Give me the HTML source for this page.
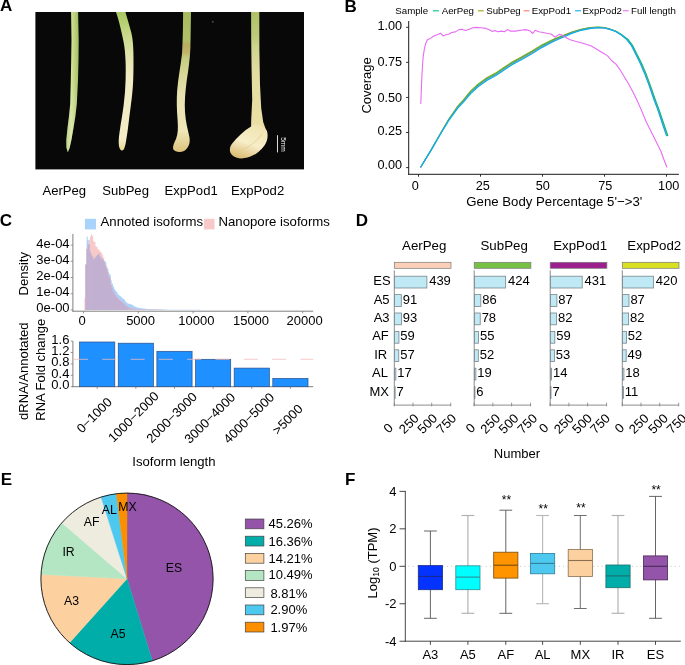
<!DOCTYPE html>
<html lang="en">
<head>
<meta charset="utf-8">
<title>Figure</title>
<style>
html,body{margin:0;padding:0;background:#fff;}
body{width:685px;height:665px;overflow:hidden;}
svg{display:block;font-family:'Liberation Sans', Arial, Helvetica, sans-serif;}
</style>
</head>
<body>
<svg width="685" height="665" viewBox="0 0 685 665">
<rect x="0" y="0" width="685" height="665" fill="#ffffff"/>
<defs>
<linearGradient id="gPeg1" x1="0" y1="0" x2="1" y2="0"><stop offset="0" stop-color="#a4c064"/><stop offset="0.4" stop-color="#d3e396"/><stop offset="1" stop-color="#a0bc5e"/></linearGradient>
<linearGradient id="gPeg2" x1="0" y1="0" x2="0" y2="1"><stop offset="0" stop-color="#aac864"/><stop offset="0.09" stop-color="#b9d274"/><stop offset="0.2" stop-color="#cfdc92"/><stop offset="0.35" stop-color="#e6e4b2"/><stop offset="0.49" stop-color="#f1ebc4"/><stop offset="0.92" stop-color="#f3ecc6"/><stop offset="1" stop-color="#e6d890"/></linearGradient>
<linearGradient id="gPeg3" x1="0" y1="0" x2="0" y2="1"><stop offset="0" stop-color="#a6ba5e"/><stop offset="0.2" stop-color="#b0c068"/><stop offset="0.235" stop-color="#b8ae62"/><stop offset="0.29" stop-color="#bfb46a"/><stop offset="0.325" stop-color="#c4cc80"/><stop offset="0.45" stop-color="#d8d898"/><stop offset="0.6" stop-color="#e8e2b0"/><stop offset="0.85" stop-color="#f0e6b8"/><stop offset="1" stop-color="#dcc27c"/></linearGradient>
<linearGradient id="gPeg4" x1="0" y1="0" x2="0" y2="1"><stop offset="0" stop-color="#afc268"/><stop offset="0.2" stop-color="#bccb78"/><stop offset="0.3" stop-color="#d0d68e"/><stop offset="0.5" stop-color="#e2dca0"/><stop offset="1" stop-color="#ecdfa6"/></linearGradient>
<linearGradient id="gPod" x1="0.7" y1="0" x2="0.3" y2="1"><stop offset="0" stop-color="#f0e4b2"/><stop offset="0.55" stop-color="#f7edc8"/><stop offset="1" stop-color="#dcbc74"/></linearGradient>
<linearGradient id="gLight" x1="0" y1="0" x2="0" y2="1"><stop offset="0" stop-color="#ffffff" stop-opacity="0"/><stop offset="0.5" stop-color="#ffffff" stop-opacity="0.05"/><stop offset="1" stop-color="#f4f6d8" stop-opacity="0.38"/></linearGradient>
<filter id="soft" x="-5%" y="-5%" width="110%" height="110%"><feGaussianBlur stdDeviation="0.45"/></filter>
</defs>
<text x="-0.10" y="11.30" font-size="17" text-anchor="start" font-weight="bold" fill="#000" >A</text>
<rect x="35.40" y="12.00" width="268.60" height="157.40" fill="#080808" stroke="none" stroke-width="1" />
<g filter="url(#soft)">
<path d="M71.1,12 L78.1,12 L78.7,40 L78.5,60 L78,80 L76.8,104 L75.4,116 L73.5,128 L71.4,140 L69.6,148 L67.8,152.2 L66.4,147.5 L66.3,140 L67.5,128 L69,116 L70.2,104 L70.8,80 L71.2,60 L71.5,40 Z" fill="url(#gPeg1)"/>
<path d="M71.1,12 L78.1,12 L78.7,40 L78.5,60 L78,80 L76.8,104 L75.4,116 L73.5,128 L71.4,140 L69.6,148 L67.8,152.2 L66.4,147.5 L66.3,140 L67.5,128 L69,116 L70.2,104 L70.8,80 L71.2,60 L71.5,40 Z" fill="url(#gLight)"/>
<path d="M116,12 L125.4,12 C127.4,19 129.6,26 131.4,33 C132.6,38 133.2,44 133.4,52 C133.6,62 133.5,72 133.2,80 C132.8,90 131.8,98 131,104 C130.2,110 129.2,118 128,128 C127.2,134 126.6,138 126.2,140 C125.8,143 125.2,146 124.2,148.6 C123.4,150.4 122.4,150.9 121.4,150.4 C119.8,149.6 118.8,147 118.7,143 C118.6,139 119.2,134 120.2,128 C121.2,122 122.8,112 123.8,104 C124.8,96 125.4,88 125.6,80 C125.8,72 125.8,66 125.5,60 C125.2,54 124.8,48 123.6,42 C122,34 119.4,22 116,12 Z" fill="url(#gPeg2)"/>
<path d="M183.1,12 L191,12 L190.4,48 C189.8,60 188.4,70 186.8,80 C185.2,92 184.4,102 185,112 C185.6,122 188,130 189.4,137 C190.6,143 188.4,148.5 184,151 C180,153 175,152 173.4,149.6 C172.4,147 174,143 176,139 C178,134 178.2,128 177.6,120 C176.8,110 176.4,100 177.2,90 C178.2,78 180.6,66 182,54 C182.8,42 183,26 183.1,12 Z" fill="url(#gPeg3)"/>
<path d="M251.1,12 L259.3,12 L259.4,50 L260,85 L261.2,108 L263.2,122 L266,130 L251,131 L251.2,120 L252.2,100 L251.6,70 L251.2,40 Z" fill="url(#gPeg4)"/>
<path d="M251.4,126.2 C256,123.6 263,125 266.8,130.4 C268.4,135 267.6,140.6 264.8,145 C261,151 254.6,155.6 247.6,157.6 C241.4,159.2 235.4,158.4 232,155 C229,151.8 229.2,147.6 232.2,143.6 C236.8,137.4 243.6,131 251.4,126.2 Z" fill="url(#gPod)"/>
<path d="M236,151 C244,150 254,145 262,134" stroke="#e2cc8c" stroke-width="0.7" fill="none"/>
</g>
<line x1="277.50" y1="135.20" x2="277.50" y2="152.40" stroke="#f4f4f4" stroke-width="0.9" />
<text transform="translate(281.3,137.2) rotate(90)" font-size="6.6" fill="#f4f4f4">5mm</text>
<circle cx="212.9" cy="21.8" r="0.6" fill="#bbb"/>
<text x="64.25" y="194.80" font-size="13.1" text-anchor="middle" font-weight="normal" fill="#000" >AerPeg</text>
<text x="125.65" y="194.80" font-size="13.1" text-anchor="middle" font-weight="normal" fill="#000" >SubPeg</text>
<text x="191.15" y="194.80" font-size="13.1" text-anchor="middle" font-weight="normal" fill="#000" >ExpPod1</text>
<text x="257.60" y="194.80" font-size="13.1" text-anchor="middle" font-weight="normal" fill="#000" >ExpPod2</text>
<text x="344.60" y="12.00" font-size="17" text-anchor="start" font-weight="bold" fill="#000" >B</text>
<text x="395.30" y="13.90" font-size="9.7" text-anchor="start" font-weight="normal" fill="#000" >Sample</text>
<line x1="433.00" y1="10.80" x2="438.80" y2="10.80" stroke="#00bf7d" stroke-width="1.1" />
<text x="441.70" y="13.90" font-size="9.7" text-anchor="start" font-weight="normal" fill="#000" >AerPeg</text>
<line x1="477.90" y1="10.80" x2="483.70" y2="10.80" stroke="#a3a500" stroke-width="1.1" />
<text x="486.20" y="13.90" font-size="9.7" text-anchor="start" font-weight="normal" fill="#000" >SubPeg</text>
<line x1="523.60" y1="10.80" x2="529.40" y2="10.80" stroke="#f8766d" stroke-width="1.1" />
<text x="531.80" y="13.90" font-size="9.7" text-anchor="start" font-weight="normal" fill="#000" >ExpPod1</text>
<line x1="575.10" y1="10.80" x2="580.90" y2="10.80" stroke="#00b0f6" stroke-width="1.1" />
<text x="582.60" y="13.90" font-size="9.7" text-anchor="start" font-weight="normal" fill="#000" >ExpPod2</text>
<line x1="622.80" y1="10.80" x2="628.60" y2="10.80" stroke="#e76bf3" stroke-width="1.1" />
<text x="631.10" y="13.90" font-size="9.7" text-anchor="start" font-weight="normal" fill="#000" >Full length</text>
<line x1="408.70" y1="21.00" x2="408.70" y2="174.80" stroke="#1a1a1a" stroke-width="1.0" />
<line x1="408.20" y1="174.30" x2="678.90" y2="174.30" stroke="#1a1a1a" stroke-width="1.0" />
<line x1="406.10" y1="27.30" x2="408.70" y2="27.30" stroke="#1a1a1a" stroke-width="0.9" />
<text x="402.20" y="30.00" font-size="12.7" text-anchor="end" font-weight="normal" fill="#000" >1.00</text>
<line x1="406.10" y1="62.37" x2="408.70" y2="62.37" stroke="#1a1a1a" stroke-width="0.9" />
<text x="402.20" y="66.00" font-size="12.7" text-anchor="end" font-weight="normal" fill="#000" >0.75</text>
<line x1="406.10" y1="97.45" x2="408.70" y2="97.45" stroke="#1a1a1a" stroke-width="0.9" />
<text x="402.20" y="101.50" font-size="12.7" text-anchor="end" font-weight="normal" fill="#000" >0.50</text>
<line x1="406.10" y1="132.52" x2="408.70" y2="132.52" stroke="#1a1a1a" stroke-width="0.9" />
<text x="402.20" y="135.40" font-size="12.7" text-anchor="end" font-weight="normal" fill="#000" >0.25</text>
<line x1="406.10" y1="167.60" x2="408.70" y2="167.60" stroke="#1a1a1a" stroke-width="0.9" />
<text x="402.20" y="168.50" font-size="12.7" text-anchor="end" font-weight="normal" fill="#000" >0.00</text>
<line x1="418.50" y1="174.30" x2="418.50" y2="176.70" stroke="#1a1a1a" stroke-width="0.9" />
<text x="415.20" y="189.50" font-size="12.7" text-anchor="middle" font-weight="normal" fill="#000" >0</text>
<line x1="480.50" y1="174.30" x2="480.50" y2="176.70" stroke="#1a1a1a" stroke-width="0.9" />
<text x="482.70" y="189.50" font-size="12.7" text-anchor="middle" font-weight="normal" fill="#000" >25</text>
<line x1="542.50" y1="174.30" x2="542.50" y2="176.70" stroke="#1a1a1a" stroke-width="0.9" />
<text x="542.80" y="189.50" font-size="12.7" text-anchor="middle" font-weight="normal" fill="#000" >50</text>
<line x1="604.50" y1="174.30" x2="604.50" y2="176.70" stroke="#1a1a1a" stroke-width="0.9" />
<text x="605.30" y="189.50" font-size="12.7" text-anchor="middle" font-weight="normal" fill="#000" >75</text>
<line x1="666.50" y1="174.30" x2="666.50" y2="176.70" stroke="#1a1a1a" stroke-width="0.9" />
<text x="668.70" y="189.50" font-size="12.7" text-anchor="middle" font-weight="normal" fill="#000" >100</text>
<text x="554.30" y="205.60" font-size="13.2" text-anchor="middle" font-weight="normal" fill="#000" >Gene Body Percentage 5'&#8722;&gt;3'</text>
<text transform="translate(370.70,85.40) rotate(-90)" font-size="13" text-anchor="middle" >Coverage</text>
<polyline points="420.8,167.0 431.3,149.5 440.1,133.9 448.8,119.0 457.6,106.3 463.4,99.9 470.7,90.9 478.0,84.1 486.8,77.7 495.5,73.1 503.8,67.5 512.5,61.7 521.3,57.0 531.5,51.2 541.7,44.9 553.4,39.3 563.6,35.2 572.4,31.7 581.1,29.2 588.4,27.9 593.0,27.4 598.1,27.1 604.0,27.6 609.8,29.0 615.9,31.2 621.9,35.1 627.8,39.8 632.2,45.7 636.6,54.4 641.0,63.2 645.4,73.4 649.7,85.1 654.8,99.7 658.5,109.6 662.9,122.7 667.3,135.6" fill="none" stroke="#a3a500" stroke-width="1.1" stroke-linejoin="round" stroke-linecap="round"/>
<polyline points="420.8,167.0 431.3,149.6 440.1,134.2 448.8,119.5 457.6,107.0 463.4,100.8 470.7,91.9 478.0,85.1 486.8,78.7 495.5,74.1 503.8,68.5 512.5,62.7 521.3,58.0 531.5,52.2 541.7,45.9 553.4,40.1 563.6,35.9 572.4,32.2 581.1,29.6 588.4,28.2 593.0,27.7 598.1,27.3 604.0,27.7 609.8,29.1 616.0,31.3 622.3,35.1 628.3,39.8 632.7,45.7 637.1,54.4 641.5,63.2 645.9,73.4 650.2,85.1 655.3,99.7 659.0,109.6 663.4,122.7 667.8,135.6" fill="none" stroke="#00bf7d" stroke-width="1.2" stroke-linejoin="round" stroke-linecap="round"/>
<polyline points="420.8,167.0 431.3,149.8 440.1,134.5 448.8,120.0 457.6,107.7 463.4,101.5 470.7,92.8 478.0,86.0 486.8,79.6 495.5,75.0 503.8,69.4 512.5,63.6 521.3,58.9 531.5,53.1 541.7,46.8 553.4,40.8 563.6,36.5 572.4,32.7 581.1,30.0 588.4,28.5 593.0,27.9 598.1,27.5 604.0,27.9 609.8,29.3 615.7,31.4 621.5,35.1 627.3,39.8 631.7,45.7 636.1,54.4 640.5,63.2 644.9,73.4 649.2,85.1 654.3,99.7 658.0,109.6 662.4,122.7 666.8,135.6" fill="none" stroke="#f8766d" stroke-width="1.0" stroke-linejoin="round" stroke-linecap="round"/>
<polyline points="420.8,167.0 431.3,149.9 440.1,134.8 448.8,120.4 457.6,108.3 463.4,102.2 470.7,93.6 478.0,86.8 486.8,80.4 495.5,75.8 503.8,70.2 512.5,64.4 521.3,59.7 531.5,53.9 541.7,47.6 553.4,41.5 563.6,37.0 572.4,33.1 581.1,30.3 588.4,28.8 593.0,28.1 598.1,27.6 604.0,28.0 609.8,29.4 615.6,31.5 621.3,35.1 627.0,39.8 631.5,45.7 635.9,54.4 640.2,63.2 644.6,73.4 649.0,85.1 654.0,99.7 657.8,109.6 662.1,122.7 666.5,135.6" fill="none" stroke="#00b0f6" stroke-width="1.2" stroke-linejoin="round" stroke-linecap="round"/>
<polyline points="420.8,103.5 421.5,85.1 422.2,70.5 423.1,57.3 424.4,48.6 425.7,43.5 427.6,39.5 430.5,38.4 434.2,35.7 437.8,34.4 440.5,33.2 443.0,35.9 445.9,34.7 448.8,34.3 451.7,32.5 455.4,31.9 459.0,29.6 461.9,29.3 465.6,30.5 469.2,29.3 472.9,27.7 476.5,27.4 480.9,27.8 486.0,28.4 489.7,29.9 492.6,31.4 494.8,30.5 497.7,31.8 501.4,31.1 504.5,31.8 507.4,29.6 510.3,31.1 515.4,31.1 520.5,30.3 525.7,29.6 530.0,30.8 532.7,33.5 535.1,30.3 538.8,31.8 543.2,32.5 547.6,33.5 551.2,34.0 554.9,37.2 559.2,34.4 562.2,35.1 565.8,37.6 570.2,39.8 575.3,41.3 581.1,42.7 586.2,44.2 590.8,45.7 596.7,49.3 602.5,52.7 607.6,55.9 612.0,61.0 615.7,63.9 620.0,69.7 624.4,77.0 628.8,84.3 633.2,92.4 636.8,99.7 640.5,108.1 646.3,122.0 653.6,136.6 660.9,151.2 663.8,159.2 666.8,167.0" fill="none" stroke="#e76bf3" stroke-width="1.1" stroke-linejoin="round" stroke-linecap="round"/>
<text x="-0.20" y="225.90" font-size="17" text-anchor="start" font-weight="bold" fill="#000" >C</text>
<rect x="84.90" y="218.80" width="11.10" height="10.60" fill="#a9d3fa" stroke="none" stroke-width="1" />
<text x="100.50" y="225.90" font-size="13.2" text-anchor="start" font-weight="normal" fill="#000" >Annoted isoforms</text>
<rect x="203.90" y="218.80" width="10.60" height="10.60" fill="#f8c9c9" stroke="none" stroke-width="1" />
<text x="218.50" y="225.90" font-size="13.2" text-anchor="start" font-weight="normal" fill="#000" >Nanopore isoforms</text>
<line x1="72.90" y1="233.90" x2="72.90" y2="311.70" stroke="#7f7f7f" stroke-width="1.0" />
<line x1="72.40" y1="311.20" x2="313.20" y2="311.20" stroke="#7f7f7f" stroke-width="1.0" />
<line x1="70.70" y1="245.10" x2="72.90" y2="245.10" stroke="#7f7f7f" stroke-width="0.8" />
<text x="69.60" y="248.40" font-size="13" text-anchor="end" font-weight="normal" fill="#000" >4e-04</text>
<line x1="70.70" y1="261.30" x2="72.90" y2="261.30" stroke="#7f7f7f" stroke-width="0.8" />
<text x="69.60" y="264.30" font-size="13" text-anchor="end" font-weight="normal" fill="#000" >3e-04</text>
<line x1="70.70" y1="277.50" x2="72.90" y2="277.50" stroke="#7f7f7f" stroke-width="0.8" />
<text x="69.60" y="280.20" font-size="13" text-anchor="end" font-weight="normal" fill="#000" >2e-04</text>
<line x1="70.70" y1="293.70" x2="72.90" y2="293.70" stroke="#7f7f7f" stroke-width="0.8" />
<text x="69.60" y="296.10" font-size="13" text-anchor="end" font-weight="normal" fill="#000" >1e-04</text>
<line x1="70.70" y1="309.90" x2="72.90" y2="309.90" stroke="#7f7f7f" stroke-width="0.8" />
<text x="69.60" y="312.00" font-size="13" text-anchor="end" font-weight="normal" fill="#000" >0e-00</text>
<line x1="83.50" y1="311.20" x2="83.50" y2="313.40" stroke="#7f7f7f" stroke-width="0.8" />
<text x="82.10" y="325.40" font-size="13" text-anchor="middle" font-weight="normal" fill="#000" >0</text>
<line x1="138.30" y1="311.20" x2="138.30" y2="313.40" stroke="#7f7f7f" stroke-width="0.8" />
<text x="140.60" y="325.40" font-size="13" text-anchor="middle" font-weight="normal" fill="#000" >5000</text>
<line x1="193.10" y1="311.20" x2="193.10" y2="313.40" stroke="#7f7f7f" stroke-width="0.8" />
<text x="196.40" y="325.40" font-size="13" text-anchor="middle" font-weight="normal" fill="#000" >10000</text>
<line x1="247.90" y1="311.20" x2="247.90" y2="313.40" stroke="#7f7f7f" stroke-width="0.8" />
<text x="251.00" y="325.40" font-size="13" text-anchor="middle" font-weight="normal" fill="#000" >15000</text>
<line x1="302.70" y1="311.20" x2="302.70" y2="313.40" stroke="#7f7f7f" stroke-width="0.8" />
<text x="304.70" y="325.40" font-size="13" text-anchor="middle" font-weight="normal" fill="#000" >20000</text>
<text transform="translate(28.40,273.80) rotate(-90)" font-size="13" text-anchor="middle" >Density</text>
<path d="M85.52,309.90 L85.52,263.83 L86.62,263.83 L86.62,236.39 L87.71,236.39 L87.71,239.77 L88.81,239.77 L88.81,244.29 L89.90,244.29 L89.90,251.43 L91.00,251.43 L91.00,254.06 L92.10,254.06 L92.10,256.32 L93.19,256.32 L93.19,258.95 L94.29,258.95 L94.29,258.20 L95.38,258.20 L95.38,256.69 L96.48,256.69 L96.48,255.19 L97.58,255.19 L97.58,254.81 L98.67,254.81 L98.67,253.31 L99.77,253.31 L99.77,256.32 L100.86,256.32 L100.86,258.20 L101.96,258.20 L101.96,258.57 L103.06,258.57 L103.06,260.08 L104.15,260.08 L104.15,261.58 L105.25,261.58 L105.25,262.33 L106.34,262.33 L106.34,266.84 L107.44,266.84 L107.44,269.47 L108.54,269.47 L108.54,273.23 L109.63,273.23 L109.63,274.74 L110.73,274.74 L110.73,280.49 L111.82,280.49 L111.82,283.83 L112.92,283.83 L112.92,286.57 L114.02,286.57 L114.02,288.85 L115.11,288.85 L115.11,290.83 L116.21,290.83 L116.21,291.83 L117.30,291.83 L117.30,293.69 L118.40,293.69 L118.40,294.99 L119.50,294.99 L119.50,295.92 L120.59,295.92 L120.59,296.81 L121.69,296.81 L121.69,297.90 L122.78,297.90 L122.78,298.77 L123.88,298.77 L123.88,299.78 L124.98,299.78 L124.98,301.20 L126.07,301.20 L126.07,302.52 L127.17,302.52 L127.17,303.36 L128.26,303.36 L128.26,303.85 L129.36,303.85 L129.36,304.07 L130.46,304.07 L130.46,304.29 L131.55,304.29 L131.55,304.86 L132.65,304.86 L132.65,305.58 L133.74,305.58 L133.74,306.28 L134.84,306.28 L134.84,306.79 L135.94,306.79 L135.94,307.29 L137.03,307.29 L137.03,307.58 L138.13,307.58 L138.13,307.86 L139.22,307.86 L139.22,308.00 L140.32,308.00 L140.32,308.13 L141.42,308.13 L141.42,308.26 L142.51,308.26 L142.51,308.42 L143.61,308.42 L143.61,308.60 L144.70,308.60 L144.70,308.77 L145.80,308.77 L145.80,308.90 L146.90,308.90 L146.90,308.95 L147.99,308.95 L147.99,309.01 L149.09,309.01 L149.09,309.06 L150.18,309.06 L150.18,309.12 L151.28,309.12 L151.28,309.17 L152.38,309.17 L152.38,309.23 L153.47,309.23 L153.47,309.28 L154.57,309.28 L154.57,309.34 L155.66,309.34 L155.66,309.39 L156.76,309.39 L156.76,309.45 L157.86,309.45 L157.86,309.48 L158.95,309.48 L158.95,309.50 L160.05,309.50 L160.05,309.52 L161.14,309.52 L161.14,309.53 L162.24,309.53 L162.24,309.55 L163.34,309.55 L163.34,309.57 L164.43,309.57 L164.43,309.59 L165.53,309.59 L165.53,309.61 L166.62,309.61 L166.62,309.63 L167.72,309.63 L167.72,309.65 L168.82,309.65 L168.82,309.67 L169.91,309.67 L169.91,309.68 L171.01,309.68 L171.01,309.69 L172.10,309.69 L172.10,309.69 L173.20,309.69 L173.20,309.70 L174.30,309.70 L174.30,309.70 L175.39,309.70 L175.39,309.71 L176.49,309.71 L176.49,309.71 L177.58,309.71 L177.58,309.72 L178.68,309.72 L178.68,309.72 L179.78,309.72 L179.78,309.73 L180.87,309.73 L180.87,309.73 L181.97,309.73 L181.97,309.74 L183.06,309.74 L183.06,309.74 L184.16,309.74 L184.16,309.75 L185.26,309.75 L185.26,309.75 L186.35,309.75 L186.35,309.76 L187.45,309.76 L187.45,309.76 L188.54,309.76 L188.54,309.77 L189.64,309.77 L189.64,309.77 L190.74,309.77 L190.74,309.78 L191.83,309.78 L191.83,309.79 L192.93,309.79 L192.93,309.79 L194.02,309.79 L194.02,309.80 L195.12,309.80 L195.12,309.80 L196.22,309.80 L196.22,309.81 L197.31,309.81 L197.31,309.81 L198.41,309.81 L198.41,309.82 L199.50,309.82 L199.50,309.82 L200.60,309.82 L200.60,309.90 Z" fill="#a9d3fa"/>
<path d="M84.42,309.90 L84.42,298.20 L85.52,298.20 L85.52,264.59 L86.62,264.59 L86.62,248.80 L87.71,248.80 L87.71,244.29 L88.81,244.29 L88.81,240.15 L89.90,240.15 L89.90,236.39 L91.00,236.39 L91.00,234.14 L92.10,234.14 L92.10,236.02 L93.19,236.02 L93.19,241.28 L94.29,241.28 L94.29,242.03 L95.38,242.03 L95.38,246.17 L96.48,246.17 L96.48,246.92 L97.58,246.92 L97.58,249.17 L98.67,249.17 L98.67,249.92 L99.77,249.92 L99.77,251.80 L100.86,251.80 L100.86,252.56 L101.96,252.56 L101.96,254.81 L103.06,254.81 L103.06,257.44 L104.15,257.44 L104.15,261.58 L105.25,261.58 L105.25,265.34 L106.34,265.34 L106.34,268.35 L107.44,268.35 L107.44,272.11 L108.54,272.11 L108.54,275.86 L109.63,275.86 L109.63,278.12 L110.73,278.12 L110.73,284.43 L111.82,284.43 L111.82,287.71 L112.92,287.71 L112.92,290.95 L114.02,290.95 L114.02,293.09 L115.11,293.09 L115.11,294.93 L116.21,294.93 L116.21,296.21 L117.30,296.21 L117.30,297.90 L118.40,297.90 L118.40,298.99 L119.50,298.99 L119.50,299.97 L120.59,299.97 L120.59,300.74 L121.69,300.74 L121.69,301.62 L122.78,301.62 L122.78,302.41 L123.88,302.41 L123.88,303.43 L124.98,303.43 L124.98,304.84 L126.07,304.84 L126.07,305.82 L127.17,305.82 L127.17,306.57 L128.26,306.57 L128.26,307.11 L129.36,307.11 L129.36,307.43 L130.46,307.43 L130.46,307.76 L131.55,307.76 L131.55,308.09 L132.65,308.09 L132.65,308.42 L133.74,308.42 L133.74,308.74 L134.84,308.74 L134.84,308.91 L135.94,308.91 L135.94,309.07 L137.03,309.07 L137.03,309.23 L138.13,309.23 L138.13,309.39 L139.22,309.39 L139.22,309.44 L140.32,309.44 L140.32,309.49 L141.42,309.49 L141.42,309.54 L142.51,309.54 L142.51,309.59 L143.61,309.59 L143.61,309.64 L144.70,309.64 L144.70,309.69 L145.80,309.69 L145.80,309.73 L146.90,309.73 L146.90,309.74 L147.99,309.74 L147.99,309.75 L149.09,309.75 L149.09,309.77 L150.18,309.77 L150.18,309.78 L151.28,309.78 L151.28,309.79 L152.38,309.79 L152.38,309.80 L153.47,309.80 L153.47,309.82 L154.57,309.82 L154.57,309.83 L155.66,309.83 L155.66,309.84 L156.76,309.84 L156.76,309.85 L157.86,309.85 L157.86,309.86 L158.95,309.86 L158.95,309.86 L160.05,309.86 L160.05,309.87 L161.14,309.87 L161.14,309.87 L162.24,309.87 L162.24,309.87 L163.34,309.87 L163.34,309.88 L164.43,309.88 L164.43,309.88 L165.53,309.88 L165.53,309.89 L166.62,309.89 L166.62,309.89 L167.72,309.89 L167.72,309.89 L168.82,309.89 L168.82,309.90 L169.91,309.90 L169.91,309.90 L171.01,309.90 L171.01,309.90 L172.10,309.90 L172.10,309.90 L173.20,309.90 L173.20,309.90 L174.30,309.90 L174.30,309.90 L175.39,309.90 L175.39,309.90 L176.49,309.90 L176.49,309.90 L177.58,309.90 L177.58,309.90 L178.68,309.90 L178.68,309.90 L179.78,309.90 L179.78,309.90 L180.87,309.90 L180.87,309.90 L181.97,309.90 L181.97,309.90 L183.06,309.90 L183.06,309.90 L184.16,309.90 L184.16,309.90 L185.26,309.90 L185.26,309.90 L186.35,309.90 L186.35,309.90 L187.45,309.90 L187.45,309.90 L188.54,309.90 L188.54,309.90 L189.64,309.90 L189.64,309.90 L190.74,309.90 L190.74,309.90 L191.83,309.90 L191.83,309.90 L192.93,309.90 L192.93,309.90 L194.02,309.90 L194.02,309.90 L195.12,309.90 L195.12,309.90 L196.22,309.90 L196.22,309.90 L197.31,309.90 L197.31,309.90 L198.41,309.90 L198.41,309.90 L199.50,309.90 L199.50,309.90 L200.60,309.90 L200.60,309.90 Z" fill="#f8c9c9"/>
<path d="M85.52,309.90 L85.52,264.59 L86.62,264.59 L86.62,248.80 L87.71,248.80 L87.71,244.29 L88.81,244.29 L88.81,244.29 L89.90,244.29 L89.90,251.43 L91.00,251.43 L91.00,254.06 L92.10,254.06 L92.10,256.32 L93.19,256.32 L93.19,258.95 L94.29,258.95 L94.29,258.20 L95.38,258.20 L95.38,256.69 L96.48,256.69 L96.48,255.19 L97.58,255.19 L97.58,254.81 L98.67,254.81 L98.67,253.31 L99.77,253.31 L99.77,256.32 L100.86,256.32 L100.86,258.20 L101.96,258.20 L101.96,258.57 L103.06,258.57 L103.06,260.08 L104.15,260.08 L104.15,261.58 L105.25,261.58 L105.25,265.34 L106.34,265.34 L106.34,268.35 L107.44,268.35 L107.44,272.11 L108.54,272.11 L108.54,275.86 L109.63,275.86 L109.63,278.12 L110.73,278.12 L110.73,284.43 L111.82,284.43 L111.82,287.71 L112.92,287.71 L112.92,290.95 L114.02,290.95 L114.02,293.09 L115.11,293.09 L115.11,294.93 L116.21,294.93 L116.21,296.21 L117.30,296.21 L117.30,297.90 L118.40,297.90 L118.40,298.99 L119.50,298.99 L119.50,299.97 L120.59,299.97 L120.59,300.74 L121.69,300.74 L121.69,301.62 L122.78,301.62 L122.78,302.41 L123.88,302.41 L123.88,303.43 L124.98,303.43 L124.98,304.84 L126.07,304.84 L126.07,305.82 L127.17,305.82 L127.17,306.57 L128.26,306.57 L128.26,307.11 L129.36,307.11 L129.36,307.43 L130.46,307.43 L130.46,307.76 L131.55,307.76 L131.55,308.09 L132.65,308.09 L132.65,308.42 L133.74,308.42 L133.74,308.74 L134.84,308.74 L134.84,308.91 L135.94,308.91 L135.94,309.07 L137.03,309.07 L137.03,309.23 L138.13,309.23 L138.13,309.39 L139.22,309.39 L139.22,309.44 L140.32,309.44 L140.32,309.49 L141.42,309.49 L141.42,309.54 L142.51,309.54 L142.51,309.59 L143.61,309.59 L143.61,309.64 L144.70,309.64 L144.70,309.69 L145.80,309.69 L145.80,309.73 L146.90,309.73 L146.90,309.74 L147.99,309.74 L147.99,309.75 L149.09,309.75 L149.09,309.77 L150.18,309.77 L150.18,309.78 L151.28,309.78 L151.28,309.79 L152.38,309.79 L152.38,309.80 L153.47,309.80 L153.47,309.82 L154.57,309.82 L154.57,309.83 L155.66,309.83 L155.66,309.84 L156.76,309.84 L156.76,309.85 L157.86,309.85 L157.86,309.86 L158.95,309.86 L158.95,309.86 L160.05,309.86 L160.05,309.87 L161.14,309.87 L161.14,309.87 L162.24,309.87 L162.24,309.87 L163.34,309.87 L163.34,309.88 L164.43,309.88 L164.43,309.88 L165.53,309.88 L165.53,309.89 L166.62,309.89 L166.62,309.89 L167.72,309.89 L167.72,309.89 L168.82,309.89 L168.82,309.90 L169.91,309.90 L169.91,309.90 L171.01,309.90 L171.01,309.90 L172.10,309.90 L172.10,309.90 L173.20,309.90 L173.20,309.90 L174.30,309.90 L174.30,309.90 L175.39,309.90 L175.39,309.90 L176.49,309.90 L176.49,309.90 L177.58,309.90 L177.58,309.90 L178.68,309.90 L178.68,309.90 L179.78,309.90 L179.78,309.90 L180.87,309.90 L180.87,309.90 L181.97,309.90 L181.97,309.90 L183.06,309.90 L183.06,309.90 L184.16,309.90 L184.16,309.90 L185.26,309.90 L185.26,309.90 L186.35,309.90 L186.35,309.90 L187.45,309.90 L187.45,309.90 L188.54,309.90 L188.54,309.90 L189.64,309.90 L189.64,309.90 L190.74,309.90 L190.74,309.90 L191.83,309.90 L191.83,309.90 L192.93,309.90 L192.93,309.90 L194.02,309.90 L194.02,309.90 L195.12,309.90 L195.12,309.90 L196.22,309.90 L196.22,309.90 L197.31,309.90 L197.31,309.90 L198.41,309.90 L198.41,309.90 L199.50,309.90 L199.50,309.90 L200.60,309.90 L200.60,309.90 Z" fill="#c9b8d6"/>
<line x1="85.52" y1="265.09" x2="85.52" y2="309.90" stroke="#b09ec6" stroke-width="0.3" />
<line x1="86.62" y1="249.30" x2="86.62" y2="309.90" stroke="#b09ec6" stroke-width="0.3" />
<line x1="87.71" y1="244.79" x2="87.71" y2="309.90" stroke="#b09ec6" stroke-width="0.3" />
<line x1="88.81" y1="244.79" x2="88.81" y2="309.90" stroke="#b09ec6" stroke-width="0.3" />
<line x1="89.90" y1="251.93" x2="89.90" y2="309.90" stroke="#b09ec6" stroke-width="0.3" />
<line x1="91.00" y1="254.56" x2="91.00" y2="309.90" stroke="#b09ec6" stroke-width="0.3" />
<line x1="92.10" y1="256.82" x2="92.10" y2="309.90" stroke="#b09ec6" stroke-width="0.3" />
<line x1="93.19" y1="259.45" x2="93.19" y2="309.90" stroke="#b09ec6" stroke-width="0.3" />
<line x1="94.29" y1="258.70" x2="94.29" y2="309.90" stroke="#b09ec6" stroke-width="0.3" />
<line x1="95.38" y1="257.19" x2="95.38" y2="309.90" stroke="#b09ec6" stroke-width="0.3" />
<line x1="96.48" y1="255.69" x2="96.48" y2="309.90" stroke="#b09ec6" stroke-width="0.3" />
<line x1="97.58" y1="255.31" x2="97.58" y2="309.90" stroke="#b09ec6" stroke-width="0.3" />
<line x1="98.67" y1="253.81" x2="98.67" y2="309.90" stroke="#b09ec6" stroke-width="0.3" />
<line x1="99.77" y1="256.82" x2="99.77" y2="309.90" stroke="#b09ec6" stroke-width="0.3" />
<line x1="100.86" y1="258.70" x2="100.86" y2="309.90" stroke="#b09ec6" stroke-width="0.3" />
<line x1="101.96" y1="259.07" x2="101.96" y2="309.90" stroke="#b09ec6" stroke-width="0.3" />
<line x1="103.06" y1="260.58" x2="103.06" y2="309.90" stroke="#b09ec6" stroke-width="0.3" />
<line x1="104.15" y1="262.08" x2="104.15" y2="309.90" stroke="#b09ec6" stroke-width="0.3" />
<line x1="105.25" y1="265.84" x2="105.25" y2="309.90" stroke="#b09ec6" stroke-width="0.3" />
<line x1="106.34" y1="268.85" x2="106.34" y2="309.90" stroke="#b09ec6" stroke-width="0.3" />
<line x1="107.44" y1="272.61" x2="107.44" y2="309.90" stroke="#b09ec6" stroke-width="0.3" />
<line x1="108.54" y1="276.36" x2="108.54" y2="309.90" stroke="#b09ec6" stroke-width="0.3" />
<line x1="109.63" y1="278.62" x2="109.63" y2="309.90" stroke="#b09ec6" stroke-width="0.3" />
<line x1="110.73" y1="284.93" x2="110.73" y2="309.90" stroke="#b09ec6" stroke-width="0.3" />
<line x1="111.82" y1="288.21" x2="111.82" y2="309.90" stroke="#b09ec6" stroke-width="0.3" />
<line x1="112.92" y1="291.45" x2="112.92" y2="309.90" stroke="#b09ec6" stroke-width="0.3" />
<line x1="114.02" y1="293.59" x2="114.02" y2="309.90" stroke="#b09ec6" stroke-width="0.3" />
<line x1="115.11" y1="295.43" x2="115.11" y2="309.90" stroke="#b09ec6" stroke-width="0.3" />
<line x1="116.21" y1="296.71" x2="116.21" y2="309.90" stroke="#b09ec6" stroke-width="0.3" />
<line x1="117.30" y1="298.40" x2="117.30" y2="309.90" stroke="#b09ec6" stroke-width="0.3" />
<line x1="118.40" y1="299.49" x2="118.40" y2="309.90" stroke="#b09ec6" stroke-width="0.3" />
<line x1="119.50" y1="300.47" x2="119.50" y2="309.90" stroke="#b09ec6" stroke-width="0.3" />
<line x1="120.59" y1="301.24" x2="120.59" y2="309.90" stroke="#b09ec6" stroke-width="0.3" />
<line x1="121.69" y1="302.12" x2="121.69" y2="309.90" stroke="#b09ec6" stroke-width="0.3" />
<line x1="122.78" y1="302.91" x2="122.78" y2="309.90" stroke="#b09ec6" stroke-width="0.3" />
<line x1="123.88" y1="303.93" x2="123.88" y2="309.90" stroke="#b09ec6" stroke-width="0.3" />
<line x1="124.98" y1="305.34" x2="124.98" y2="309.90" stroke="#b09ec6" stroke-width="0.3" />
<line x1="126.07" y1="306.32" x2="126.07" y2="309.90" stroke="#b09ec6" stroke-width="0.3" />
<line x1="127.17" y1="307.07" x2="127.17" y2="309.90" stroke="#b09ec6" stroke-width="0.3" />
<line x1="72.90" y1="341.00" x2="72.90" y2="387.20" stroke="#7f7f7f" stroke-width="1.0" />
<line x1="72.40" y1="386.70" x2="313.20" y2="386.70" stroke="#7f7f7f" stroke-width="1.0" />
<line x1="70.70" y1="341.10" x2="72.90" y2="341.10" stroke="#7f7f7f" stroke-width="0.8" />
<text x="69.40" y="343.50" font-size="13" text-anchor="end" font-weight="normal" fill="#000" >1.6</text>
<line x1="70.70" y1="352.50" x2="72.90" y2="352.50" stroke="#7f7f7f" stroke-width="0.8" />
<text x="69.40" y="354.90" font-size="13" text-anchor="end" font-weight="normal" fill="#000" >1.2</text>
<line x1="70.70" y1="363.90" x2="72.90" y2="363.90" stroke="#7f7f7f" stroke-width="0.8" />
<text x="69.40" y="366.30" font-size="13" text-anchor="end" font-weight="normal" fill="#000" >0.8</text>
<line x1="70.70" y1="375.30" x2="72.90" y2="375.30" stroke="#7f7f7f" stroke-width="0.8" />
<text x="69.40" y="377.70" font-size="13" text-anchor="end" font-weight="normal" fill="#000" >0.4</text>
<line x1="70.70" y1="386.70" x2="72.90" y2="386.70" stroke="#7f7f7f" stroke-width="0.8" />
<text x="69.40" y="389.10" font-size="13" text-anchor="end" font-weight="normal" fill="#000" >0.0</text>
<rect x="79.60" y="342.00" width="35.20" height="44.70" fill="#1e90ff" stroke="#2b4f86" stroke-width="0.7" />
<line x1="97.20" y1="386.70" x2="97.20" y2="388.90" stroke="#7f7f7f" stroke-width="0.8" />
<text transform="translate(94.20,415.20) rotate(-45)" font-size="13" text-anchor="middle" dominant-baseline="central">0&#8722;1000</text>
<rect x="118.24" y="343.20" width="35.20" height="43.50" fill="#1e90ff" stroke="#2b4f86" stroke-width="0.7" />
<line x1="135.84" y1="386.70" x2="135.84" y2="388.90" stroke="#7f7f7f" stroke-width="0.8" />
<text transform="translate(133.40,416.80) rotate(-45)" font-size="13" text-anchor="middle" dominant-baseline="central">1000&#8722;2000</text>
<rect x="156.88" y="351.30" width="35.20" height="35.40" fill="#1e90ff" stroke="#2b4f86" stroke-width="0.7" />
<line x1="174.48" y1="386.70" x2="174.48" y2="388.90" stroke="#7f7f7f" stroke-width="0.8" />
<text transform="translate(171.60,417.50) rotate(-45)" font-size="13" text-anchor="middle" dominant-baseline="central">2000&#8722;3000</text>
<rect x="195.52" y="359.30" width="35.20" height="27.40" fill="#1e90ff" stroke="#2b4f86" stroke-width="0.7" />
<line x1="213.12" y1="386.70" x2="213.12" y2="388.90" stroke="#7f7f7f" stroke-width="0.8" />
<text transform="translate(209.80,418.00) rotate(-45)" font-size="13" text-anchor="middle" dominant-baseline="central">3000&#8722;4000</text>
<rect x="234.16" y="368.10" width="35.20" height="18.60" fill="#1e90ff" stroke="#2b4f86" stroke-width="0.7" />
<line x1="251.76" y1="386.70" x2="251.76" y2="388.90" stroke="#7f7f7f" stroke-width="0.8" />
<text transform="translate(248.80,418.00) rotate(-45)" font-size="13" text-anchor="middle" dominant-baseline="central">4000&#8722;5000</text>
<rect x="272.80" y="378.40" width="35.20" height="8.30" fill="#1e90ff" stroke="#2b4f86" stroke-width="0.7" />
<line x1="290.40" y1="386.70" x2="290.40" y2="388.90" stroke="#7f7f7f" stroke-width="0.8" />
<text transform="translate(287.50,419.40) rotate(-45)" font-size="13" text-anchor="middle" dominant-baseline="central">&gt;5000</text>
<line x1="74.00" y1="359.30" x2="88.00" y2="359.30" stroke="#f6bcbc" stroke-width="0.9" opacity="0.85"/>
<line x1="102.30" y1="359.30" x2="116.30" y2="359.30" stroke="#f6bcbc" stroke-width="0.9" opacity="0.85"/>
<line x1="130.60" y1="359.30" x2="144.60" y2="359.30" stroke="#f6bcbc" stroke-width="0.9" opacity="0.85"/>
<line x1="158.90" y1="359.30" x2="172.90" y2="359.30" stroke="#f6bcbc" stroke-width="0.9" opacity="0.85"/>
<line x1="187.20" y1="359.30" x2="201.20" y2="359.30" stroke="#f6bcbc" stroke-width="0.9" opacity="0.85"/>
<line x1="215.50" y1="359.30" x2="229.50" y2="359.30" stroke="#f6bcbc" stroke-width="0.9" opacity="0.85"/>
<line x1="243.80" y1="359.30" x2="257.80" y2="359.30" stroke="#f6bcbc" stroke-width="0.9" opacity="0.85"/>
<line x1="272.10" y1="359.30" x2="286.10" y2="359.30" stroke="#f6bcbc" stroke-width="0.9" opacity="0.85"/>
<line x1="300.40" y1="359.30" x2="313.20" y2="359.30" stroke="#f6bcbc" stroke-width="0.9" opacity="0.85"/>
<text x="173.90" y="466.20" font-size="13.15" text-anchor="middle" font-weight="normal" fill="#000" >Isoform length</text>
<text transform="translate(27.60,371.20) rotate(-90)" font-size="13" text-anchor="middle" >dRNA/Annotated</text>
<text transform="translate(44.90,369.80) rotate(-90)" font-size="13" text-anchor="middle" >RNA Fold change</text>
<text x="355.80" y="226.00" font-size="17" text-anchor="start" font-weight="bold" fill="#000" >D</text>
<text x="424.25" y="250.30" font-size="13.3" text-anchor="middle" font-weight="normal" fill="#000" >AerPeg</text>
<rect x="394.30" y="262.30" width="56.70" height="6.00" fill="#fcd0b8" stroke="#7a7a7a" stroke-width="0.7" />
<line x1="394.30" y1="270.30" x2="394.30" y2="405.60" stroke="#7f7f7f" stroke-width="0.9" />
<line x1="393.90" y1="405.10" x2="451.00" y2="405.10" stroke="#7f7f7f" stroke-width="0.9" />
<line x1="394.30" y1="402.70" x2="394.30" y2="406.40" stroke="#7f7f7f" stroke-width="0.8" />
<line x1="413.00" y1="402.70" x2="413.00" y2="406.40" stroke="#7f7f7f" stroke-width="0.8" />
<line x1="431.70" y1="402.70" x2="431.70" y2="406.40" stroke="#7f7f7f" stroke-width="0.8" />
<line x1="450.70" y1="402.70" x2="450.70" y2="406.40" stroke="#7f7f7f" stroke-width="0.8" />
<rect x="394.60" y="276.20" width="32.27" height="11.80" fill="#bfe9f5" stroke="#7a848a" stroke-width="0.8" />
<text x="429.17" y="285.20" font-size="13" text-anchor="start" font-weight="normal" fill="#000" >439</text>
<rect x="394.60" y="294.60" width="6.69" height="11.80" fill="#bfe9f5" stroke="#7a848a" stroke-width="0.8" />
<text x="402.69" y="303.60" font-size="13" text-anchor="start" font-weight="normal" fill="#000" >91</text>
<rect x="394.60" y="313.00" width="6.84" height="11.80" fill="#bfe9f5" stroke="#7a848a" stroke-width="0.8" />
<text x="402.84" y="322.00" font-size="13" text-anchor="start" font-weight="normal" fill="#000" >93</text>
<rect x="394.60" y="331.40" width="4.34" height="11.80" fill="#bfe9f5" stroke="#7a848a" stroke-width="0.8" />
<text x="400.34" y="340.40" font-size="13" text-anchor="start" font-weight="normal" fill="#000" >59</text>
<rect x="394.60" y="349.80" width="4.19" height="11.80" fill="#bfe9f5" stroke="#7a848a" stroke-width="0.8" />
<text x="400.19" y="358.80" font-size="13" text-anchor="start" font-weight="normal" fill="#000" >57</text>
<rect x="394.60" y="368.20" width="1.25" height="11.80" fill="#bfe9f5" stroke="#7a848a" stroke-width="0.8" />
<text x="397.25" y="377.20" font-size="13" text-anchor="start" font-weight="normal" fill="#000" >17</text>
<rect x="394.60" y="386.60" width="0.51" height="11.80" fill="#bfe9f5" stroke="#7a848a" stroke-width="0.8" />
<text x="396.51" y="395.60" font-size="13" text-anchor="start" font-weight="normal" fill="#000" >7</text>
<text transform="translate(388.20,427.90) rotate(-45)" font-size="13" text-anchor="middle" dominant-baseline="central">0</text>
<text transform="translate(408.80,423.60) rotate(-45)" font-size="13" text-anchor="middle" dominant-baseline="central">250</text>
<text transform="translate(427.30,423.60) rotate(-45)" font-size="13" text-anchor="middle" dominant-baseline="central">500</text>
<text transform="translate(446.30,423.60) rotate(-45)" font-size="13" text-anchor="middle" dominant-baseline="central">750</text>
<text x="504.15" y="250.30" font-size="13.3" text-anchor="middle" font-weight="normal" fill="#000" >SubPeg</text>
<rect x="474.20" y="262.30" width="56.70" height="6.00" fill="#76c043" stroke="#7a7a7a" stroke-width="0.7" />
<line x1="474.20" y1="270.30" x2="474.20" y2="405.60" stroke="#7f7f7f" stroke-width="0.9" />
<line x1="473.80" y1="405.10" x2="530.90" y2="405.10" stroke="#7f7f7f" stroke-width="0.9" />
<line x1="474.20" y1="402.70" x2="474.20" y2="406.40" stroke="#7f7f7f" stroke-width="0.8" />
<line x1="492.90" y1="402.70" x2="492.90" y2="406.40" stroke="#7f7f7f" stroke-width="0.8" />
<line x1="511.60" y1="402.70" x2="511.60" y2="406.40" stroke="#7f7f7f" stroke-width="0.8" />
<line x1="530.60" y1="402.70" x2="530.60" y2="406.40" stroke="#7f7f7f" stroke-width="0.8" />
<rect x="474.50" y="276.20" width="31.16" height="11.80" fill="#bfe9f5" stroke="#7a848a" stroke-width="0.8" />
<text x="507.96" y="285.20" font-size="13" text-anchor="start" font-weight="normal" fill="#000" >424</text>
<rect x="474.50" y="294.60" width="6.32" height="11.80" fill="#bfe9f5" stroke="#7a848a" stroke-width="0.8" />
<text x="482.22" y="303.60" font-size="13" text-anchor="start" font-weight="normal" fill="#000" >86</text>
<rect x="474.50" y="313.00" width="5.73" height="11.80" fill="#bfe9f5" stroke="#7a848a" stroke-width="0.8" />
<text x="481.63" y="322.00" font-size="13" text-anchor="start" font-weight="normal" fill="#000" >78</text>
<rect x="474.50" y="331.40" width="4.04" height="11.80" fill="#bfe9f5" stroke="#7a848a" stroke-width="0.8" />
<text x="479.94" y="340.40" font-size="13" text-anchor="start" font-weight="normal" fill="#000" >55</text>
<rect x="474.50" y="349.80" width="3.82" height="11.80" fill="#bfe9f5" stroke="#7a848a" stroke-width="0.8" />
<text x="479.72" y="358.80" font-size="13" text-anchor="start" font-weight="normal" fill="#000" >52</text>
<rect x="474.50" y="368.20" width="1.40" height="11.80" fill="#bfe9f5" stroke="#7a848a" stroke-width="0.8" />
<text x="477.30" y="377.20" font-size="13" text-anchor="start" font-weight="normal" fill="#000" >19</text>
<rect x="474.50" y="386.60" width="0.44" height="11.80" fill="#bfe9f5" stroke="#7a848a" stroke-width="0.8" />
<text x="476.34" y="395.60" font-size="13" text-anchor="start" font-weight="normal" fill="#000" >6</text>
<text transform="translate(470.40,427.90) rotate(-45)" font-size="13" text-anchor="middle" dominant-baseline="central">0</text>
<text transform="translate(490.20,423.60) rotate(-45)" font-size="13" text-anchor="middle" dominant-baseline="central">250</text>
<text transform="translate(508.50,423.60) rotate(-45)" font-size="13" text-anchor="middle" dominant-baseline="central">500</text>
<text transform="translate(527.20,423.60) rotate(-45)" font-size="13" text-anchor="middle" dominant-baseline="central">750</text>
<text x="580.15" y="250.30" font-size="13.3" text-anchor="middle" font-weight="normal" fill="#000" >ExpPod1</text>
<rect x="550.20" y="262.30" width="56.70" height="6.00" fill="#9c1f8e" stroke="#7a7a7a" stroke-width="0.7" />
<line x1="550.20" y1="270.30" x2="550.20" y2="405.60" stroke="#7f7f7f" stroke-width="0.9" />
<line x1="549.80" y1="405.10" x2="606.90" y2="405.10" stroke="#7f7f7f" stroke-width="0.9" />
<line x1="550.20" y1="402.70" x2="550.20" y2="406.40" stroke="#7f7f7f" stroke-width="0.8" />
<line x1="568.90" y1="402.70" x2="568.90" y2="406.40" stroke="#7f7f7f" stroke-width="0.8" />
<line x1="587.60" y1="402.70" x2="587.60" y2="406.40" stroke="#7f7f7f" stroke-width="0.8" />
<line x1="606.60" y1="402.70" x2="606.60" y2="406.40" stroke="#7f7f7f" stroke-width="0.8" />
<rect x="550.50" y="276.20" width="31.68" height="11.80" fill="#bfe9f5" stroke="#7a848a" stroke-width="0.8" />
<text x="584.48" y="285.20" font-size="13" text-anchor="start" font-weight="normal" fill="#000" >431</text>
<rect x="550.50" y="294.60" width="6.39" height="11.80" fill="#bfe9f5" stroke="#7a848a" stroke-width="0.8" />
<text x="558.29" y="303.60" font-size="13" text-anchor="start" font-weight="normal" fill="#000" >87</text>
<rect x="550.50" y="313.00" width="6.03" height="11.80" fill="#bfe9f5" stroke="#7a848a" stroke-width="0.8" />
<text x="557.93" y="322.00" font-size="13" text-anchor="start" font-weight="normal" fill="#000" >82</text>
<rect x="550.50" y="331.40" width="4.34" height="11.80" fill="#bfe9f5" stroke="#7a848a" stroke-width="0.8" />
<text x="556.24" y="340.40" font-size="13" text-anchor="start" font-weight="normal" fill="#000" >59</text>
<rect x="550.50" y="349.80" width="3.90" height="11.80" fill="#bfe9f5" stroke="#7a848a" stroke-width="0.8" />
<text x="555.80" y="358.80" font-size="13" text-anchor="start" font-weight="normal" fill="#000" >53</text>
<rect x="550.50" y="368.20" width="1.03" height="11.80" fill="#bfe9f5" stroke="#7a848a" stroke-width="0.8" />
<text x="552.93" y="377.20" font-size="13" text-anchor="start" font-weight="normal" fill="#000" >14</text>
<rect x="550.50" y="386.60" width="0.51" height="11.80" fill="#bfe9f5" stroke="#7a848a" stroke-width="0.8" />
<text x="552.41" y="395.60" font-size="13" text-anchor="start" font-weight="normal" fill="#000" >7</text>
<text transform="translate(543.70,427.90) rotate(-45)" font-size="13" text-anchor="middle" dominant-baseline="central">0</text>
<text transform="translate(563.70,423.60) rotate(-45)" font-size="13" text-anchor="middle" dominant-baseline="central">250</text>
<text transform="translate(582.00,423.60) rotate(-45)" font-size="13" text-anchor="middle" dominant-baseline="central">500</text>
<text transform="translate(600.00,423.60) rotate(-45)" font-size="13" text-anchor="middle" dominant-baseline="central">750</text>
<text x="654.25" y="250.30" font-size="13.3" text-anchor="middle" font-weight="normal" fill="#000" >ExpPod2</text>
<rect x="622.30" y="262.30" width="56.70" height="6.00" fill="#d9e021" stroke="#7a7a7a" stroke-width="0.7" />
<line x1="622.30" y1="270.30" x2="622.30" y2="405.60" stroke="#7f7f7f" stroke-width="0.9" />
<line x1="621.90" y1="405.10" x2="679.00" y2="405.10" stroke="#7f7f7f" stroke-width="0.9" />
<line x1="622.30" y1="402.70" x2="622.30" y2="406.40" stroke="#7f7f7f" stroke-width="0.8" />
<line x1="641.00" y1="402.70" x2="641.00" y2="406.40" stroke="#7f7f7f" stroke-width="0.8" />
<line x1="659.70" y1="402.70" x2="659.70" y2="406.40" stroke="#7f7f7f" stroke-width="0.8" />
<line x1="678.70" y1="402.70" x2="678.70" y2="406.40" stroke="#7f7f7f" stroke-width="0.8" />
<rect x="622.60" y="276.20" width="30.87" height="11.80" fill="#bfe9f5" stroke="#7a848a" stroke-width="0.8" />
<text x="655.77" y="285.20" font-size="13" text-anchor="start" font-weight="normal" fill="#000" >420</text>
<rect x="622.60" y="294.60" width="6.39" height="11.80" fill="#bfe9f5" stroke="#7a848a" stroke-width="0.8" />
<text x="630.39" y="303.60" font-size="13" text-anchor="start" font-weight="normal" fill="#000" >87</text>
<rect x="622.60" y="313.00" width="6.03" height="11.80" fill="#bfe9f5" stroke="#7a848a" stroke-width="0.8" />
<text x="630.03" y="322.00" font-size="13" text-anchor="start" font-weight="normal" fill="#000" >82</text>
<rect x="622.60" y="331.40" width="3.82" height="11.80" fill="#bfe9f5" stroke="#7a848a" stroke-width="0.8" />
<text x="627.82" y="340.40" font-size="13" text-anchor="start" font-weight="normal" fill="#000" >52</text>
<rect x="622.60" y="349.80" width="3.60" height="11.80" fill="#bfe9f5" stroke="#7a848a" stroke-width="0.8" />
<text x="627.60" y="358.80" font-size="13" text-anchor="start" font-weight="normal" fill="#000" >49</text>
<rect x="622.60" y="368.20" width="1.32" height="11.80" fill="#bfe9f5" stroke="#7a848a" stroke-width="0.8" />
<text x="625.32" y="377.20" font-size="13" text-anchor="start" font-weight="normal" fill="#000" >18</text>
<rect x="622.60" y="386.60" width="0.81" height="11.80" fill="#bfe9f5" stroke="#7a848a" stroke-width="0.8" />
<text x="624.81" y="395.60" font-size="13" text-anchor="start" font-weight="normal" fill="#000" >11</text>
<text transform="translate(619.30,427.90) rotate(-45)" font-size="13" text-anchor="middle" dominant-baseline="central">0</text>
<text transform="translate(638.70,423.60) rotate(-45)" font-size="13" text-anchor="middle" dominant-baseline="central">250</text>
<text transform="translate(657.90,423.60) rotate(-45)" font-size="13" text-anchor="middle" dominant-baseline="central">500</text>
<text transform="translate(676.60,423.60) rotate(-45)" font-size="13" text-anchor="middle" dominant-baseline="central">750</text>
<text x="390.60" y="285.10" font-size="13" text-anchor="end" font-weight="normal" fill="#000" >ES</text>
<text x="389.60" y="303.50" font-size="13" text-anchor="end" font-weight="normal" fill="#000" >A5</text>
<text x="389.60" y="321.90" font-size="13" text-anchor="end" font-weight="normal" fill="#000" >A3</text>
<text x="388.80" y="340.30" font-size="13" text-anchor="end" font-weight="normal" fill="#000" >AF</text>
<text x="387.20" y="358.70" font-size="13" text-anchor="end" font-weight="normal" fill="#000" >IR</text>
<text x="388.00" y="377.10" font-size="13" text-anchor="end" font-weight="normal" fill="#000" >AL</text>
<text x="388.90" y="395.50" font-size="13" text-anchor="end" font-weight="normal" fill="#000" >MX</text>
<text x="516.90" y="458.40" font-size="13" text-anchor="middle" font-weight="normal" fill="#000" >Number</text>
<text x="0.80" y="485.10" font-size="17" text-anchor="start" font-weight="bold" fill="#000" >E</text>
<path d="M127.00,578.85 L127.00,493.10 A86.1,85.75 0 0 1 152.27,660.83 Z" fill="#9354a9" stroke="#9354a9" stroke-width="0.4"/>
<path d="M127.00,578.85 L152.27,660.83 A86.1,85.75 0 0 1 69.58,642.74 Z" fill="#00ada9" stroke="#00ada9" stroke-width="0.4"/>
<path d="M127.00,578.85 L69.58,642.74 A86.1,85.75 0 0 1 41.02,574.38 Z" fill="#fdd09f" stroke="#fdd09f" stroke-width="0.4"/>
<path d="M127.00,578.85 L41.02,574.38 A86.1,85.75 0 0 1 61.78,522.87 Z" fill="#b4e6c3" stroke="#b4e6c3" stroke-width="0.4"/>
<path d="M127.00,578.85 L61.78,522.87 A86.1,85.75 0 0 1 101.06,497.08 Z" fill="#eeebdf" stroke="#eeebdf" stroke-width="0.4"/>
<path d="M127.00,578.85 L101.06,497.08 A86.1,85.75 0 0 1 116.37,493.76 Z" fill="#4dc8ee" stroke="#4dc8ee" stroke-width="0.4"/>
<path d="M127.00,578.85 L116.37,493.76 A86.1,85.75 0 0 1 127.00,493.10 Z" fill="#fb8f00" stroke="#fb8f00" stroke-width="0.4"/>
<ellipse cx="127.0" cy="578.85" rx="86.1" ry="85.75" fill="none" stroke="#1a1a1a" stroke-width="0.95"/>
<text x="174.00" y="571.90" font-size="12.3" text-anchor="middle" font-weight="normal" fill="#000" >ES</text>
<text x="118.00" y="638.40" font-size="12.3" text-anchor="middle" font-weight="normal" fill="#000" >A5</text>
<text x="71.60" y="605.10" font-size="12.3" text-anchor="middle" font-weight="normal" fill="#000" >A3</text>
<text x="68.60" y="556.10" font-size="12.3" text-anchor="middle" font-weight="normal" fill="#000" >IR</text>
<text x="91.70" y="526.40" font-size="12.3" text-anchor="middle" font-weight="normal" fill="#000" >AF</text>
<text x="109.30" y="514.10" font-size="12.3" text-anchor="middle" font-weight="normal" fill="#000" >AL</text>
<text x="127.60" y="511.40" font-size="12.3" text-anchor="middle" font-weight="normal" fill="#000" >MX</text>
<rect x="245.30" y="519.00" width="18.60" height="9.80" fill="#9354a9" stroke="#444" stroke-width="0.7" />
<text x="268.50" y="527.50" font-size="13" text-anchor="start" font-weight="normal" fill="#000" >45.26%</text>
<rect x="245.30" y="536.20" width="18.60" height="9.80" fill="#00ada9" stroke="#444" stroke-width="0.7" />
<text x="268.50" y="545.80" font-size="13" text-anchor="start" font-weight="normal" fill="#000" >16.36%</text>
<rect x="245.30" y="553.40" width="18.60" height="9.80" fill="#fdd09f" stroke="#444" stroke-width="0.7" />
<text x="268.50" y="562.80" font-size="13" text-anchor="start" font-weight="normal" fill="#000" >14.21%</text>
<rect x="245.30" y="570.60" width="18.60" height="9.80" fill="#b4e6c3" stroke="#444" stroke-width="0.7" />
<text x="268.50" y="578.70" font-size="13" text-anchor="start" font-weight="normal" fill="#000" >10.49%</text>
<rect x="245.30" y="587.80" width="18.60" height="9.80" fill="#eeebdf" stroke="#444" stroke-width="0.7" />
<text x="270.40" y="597.50" font-size="13" text-anchor="start" font-weight="normal" fill="#000" >8.81%</text>
<rect x="245.30" y="605.00" width="18.60" height="9.80" fill="#4dc8ee" stroke="#444" stroke-width="0.7" />
<text x="270.40" y="614.40" font-size="13" text-anchor="start" font-weight="normal" fill="#000" >2.90%</text>
<rect x="245.30" y="622.20" width="18.60" height="9.80" fill="#fb8f00" stroke="#444" stroke-width="0.7" />
<text x="270.40" y="631.60" font-size="13" text-anchor="start" font-weight="normal" fill="#000" >1.97%</text>
<text x="344.90" y="485.10" font-size="17" text-anchor="start" font-weight="bold" fill="#000" >F</text>
<line x1="405.30" y1="490.90" x2="405.30" y2="641.70" stroke="#333" stroke-width="0.9" />
<line x1="404.90" y1="641.20" x2="680.80" y2="641.20" stroke="#333" stroke-width="0.9" />
<line x1="399.50" y1="491.38" x2="405.30" y2="491.38" stroke="#333" stroke-width="0.9" />
<text x="396.60" y="495.98" font-size="13" text-anchor="end" font-weight="normal" fill="#000" >4</text>
<line x1="399.50" y1="528.84" x2="405.30" y2="528.84" stroke="#333" stroke-width="0.9" />
<text x="396.60" y="533.44" font-size="13" text-anchor="end" font-weight="normal" fill="#000" >2</text>
<line x1="399.50" y1="566.30" x2="405.30" y2="566.30" stroke="#333" stroke-width="0.9" />
<text x="396.60" y="570.90" font-size="13" text-anchor="end" font-weight="normal" fill="#000" >0</text>
<line x1="399.50" y1="603.76" x2="405.30" y2="603.76" stroke="#333" stroke-width="0.9" />
<text x="396.60" y="608.36" font-size="13" text-anchor="end" font-weight="normal" fill="#000" >-2</text>
<line x1="399.50" y1="641.22" x2="405.30" y2="641.22" stroke="#333" stroke-width="0.9" />
<text x="396.60" y="645.82" font-size="13" text-anchor="end" font-weight="normal" fill="#000" >-4</text>
<line x1="408.3" y1="566.3" x2="680" y2="566.3" stroke="#bdbdbd" stroke-width="0.9" stroke-dasharray="1 3.3"/>
<line x1="430.40" y1="531.00" x2="430.40" y2="618.30" stroke="#555555" stroke-width="0.9" />
<line x1="424.00" y1="531.00" x2="436.80" y2="531.00" stroke="#555555" stroke-width="0.9" />
<line x1="424.00" y1="618.30" x2="436.80" y2="618.30" stroke="#555555" stroke-width="0.9" />
<rect x="418.30" y="565.60" width="24.20" height="24.10" fill="#0433ff" stroke="#1b2a8a" stroke-width="0.8" />
<line x1="418.30" y1="576.40" x2="442.50" y2="576.40" stroke="#1b2a8a" stroke-width="1.1" />
<line x1="430.40" y1="641.20" x2="430.40" y2="644.80" stroke="#333" stroke-width="0.9" />
<text x="430.40" y="659.40" font-size="13" text-anchor="middle" font-weight="normal" fill="#000" >A3</text>
<line x1="467.90" y1="515.50" x2="467.90" y2="613.30" stroke="#b0b0b0" stroke-width="1.15" />
<line x1="461.50" y1="515.50" x2="474.30" y2="515.50" stroke="#b0b0b0" stroke-width="1.15" />
<line x1="461.50" y1="613.30" x2="474.30" y2="613.30" stroke="#b0b0b0" stroke-width="1.15" />
<rect x="455.80" y="565.80" width="24.20" height="23.90" fill="#00fdff" stroke="#2a8f93" stroke-width="0.8" />
<line x1="455.80" y1="577.10" x2="480.00" y2="577.10" stroke="#2a8f93" stroke-width="1.1" />
<line x1="467.90" y1="641.20" x2="467.90" y2="644.80" stroke="#333" stroke-width="0.9" />
<text x="467.90" y="659.40" font-size="13" text-anchor="middle" font-weight="normal" fill="#000" >A5</text>
<line x1="505.80" y1="510.20" x2="505.80" y2="613.30" stroke="#555555" stroke-width="0.9" />
<line x1="499.40" y1="510.20" x2="512.20" y2="510.20" stroke="#555555" stroke-width="0.9" />
<line x1="499.40" y1="613.30" x2="512.20" y2="613.30" stroke="#555555" stroke-width="0.9" />
<rect x="493.70" y="552.20" width="24.20" height="25.90" fill="#ff9300" stroke="#7a4a0a" stroke-width="0.8" />
<line x1="493.70" y1="565.20" x2="517.90" y2="565.20" stroke="#7a4a0a" stroke-width="1.1" />
<line x1="505.80" y1="641.20" x2="505.80" y2="644.80" stroke="#333" stroke-width="0.9" />
<text x="505.80" y="659.40" font-size="13" text-anchor="middle" font-weight="normal" fill="#000" >AF</text>
<text x="506.40" y="504.40" font-size="12" text-anchor="middle" font-weight="normal" fill="#000" >**</text>
<line x1="542.60" y1="515.50" x2="542.60" y2="603.70" stroke="#b8b8b8" stroke-width="1.15" />
<line x1="536.20" y1="515.50" x2="549.00" y2="515.50" stroke="#b8b8b8" stroke-width="1.15" />
<line x1="536.20" y1="603.70" x2="549.00" y2="603.70" stroke="#b8b8b8" stroke-width="1.15" />
<rect x="530.50" y="553.40" width="24.20" height="20.40" fill="#4dc8ee" stroke="#2f7f99" stroke-width="0.8" />
<line x1="530.50" y1="563.40" x2="554.70" y2="563.40" stroke="#2f7f99" stroke-width="1.1" />
<line x1="542.60" y1="641.20" x2="542.60" y2="644.80" stroke="#333" stroke-width="0.9" />
<text x="542.60" y="659.40" font-size="13" text-anchor="middle" font-weight="normal" fill="#000" >AL</text>
<text x="543.20" y="513.20" font-size="12" text-anchor="middle" font-weight="normal" fill="#000" >**</text>
<line x1="580.30" y1="515.50" x2="580.30" y2="608.50" stroke="#606060" stroke-width="0.9" />
<line x1="573.90" y1="515.50" x2="586.70" y2="515.50" stroke="#606060" stroke-width="0.9" />
<line x1="573.90" y1="608.50" x2="586.70" y2="608.50" stroke="#606060" stroke-width="0.9" />
<rect x="568.20" y="549.60" width="24.20" height="26.80" fill="#fdd09f" stroke="#8a6f50" stroke-width="0.8" />
<line x1="568.20" y1="560.50" x2="592.40" y2="560.50" stroke="#8a6f50" stroke-width="1.1" />
<line x1="580.30" y1="641.20" x2="580.30" y2="644.80" stroke="#333" stroke-width="0.9" />
<text x="580.30" y="659.40" font-size="13" text-anchor="middle" font-weight="normal" fill="#000" >MX</text>
<text x="580.90" y="511.70" font-size="12" text-anchor="middle" font-weight="normal" fill="#000" >**</text>
<line x1="618.00" y1="515.50" x2="618.00" y2="613.30" stroke="#b0b0b0" stroke-width="1.15" />
<line x1="611.60" y1="515.50" x2="624.40" y2="515.50" stroke="#b0b0b0" stroke-width="1.15" />
<line x1="611.60" y1="613.30" x2="624.40" y2="613.30" stroke="#b0b0b0" stroke-width="1.15" />
<rect x="605.90" y="565.00" width="24.20" height="22.70" fill="#00ada9" stroke="#1d6e6c" stroke-width="0.8" />
<line x1="605.90" y1="575.90" x2="630.10" y2="575.90" stroke="#1d6e6c" stroke-width="1.1" />
<line x1="618.00" y1="641.20" x2="618.00" y2="644.80" stroke="#333" stroke-width="0.9" />
<text x="618.00" y="659.40" font-size="13" text-anchor="middle" font-weight="normal" fill="#000" >IR</text>
<line x1="655.50" y1="496.40" x2="655.50" y2="618.30" stroke="#555555" stroke-width="0.9" />
<line x1="649.10" y1="496.40" x2="661.90" y2="496.40" stroke="#555555" stroke-width="0.9" />
<line x1="649.10" y1="618.30" x2="661.90" y2="618.30" stroke="#555555" stroke-width="0.9" />
<rect x="643.40" y="555.90" width="24.20" height="24.00" fill="#9354a9" stroke="#4a2a57" stroke-width="0.8" />
<line x1="643.40" y1="566.30" x2="667.60" y2="566.30" stroke="#4a2a57" stroke-width="1.1" />
<line x1="655.50" y1="641.20" x2="655.50" y2="644.80" stroke="#333" stroke-width="0.9" />
<text x="655.50" y="659.40" font-size="13" text-anchor="middle" font-weight="normal" fill="#000" >ES</text>
<text x="656.10" y="494.30" font-size="12" text-anchor="middle" font-weight="normal" fill="#000" >**</text>
<text transform="translate(376.5,563.0) rotate(-90)" font-size="13" text-anchor="middle">Log<tspan font-size="8.6" dy="2.6">10</tspan><tspan dy="-2.6"> (TPM)</tspan></text>
</svg>
</body>
</html>
